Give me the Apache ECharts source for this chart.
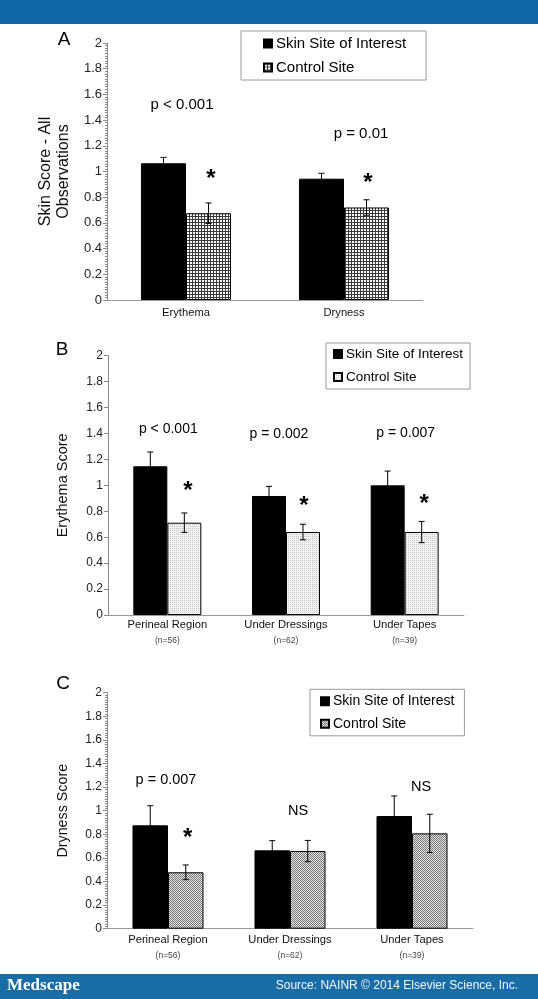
<!DOCTYPE html>
<html lang="en">
<head>
    <meta charset="UTF-8">
    <title>Skin Scores</title>
    <script src="https://cdn.jsdelivr.net/npm/echarts@6/dist/echarts.min.js"></script>
    <style>
        html, body { margin: 0; padding: 0; background: #fff; }
        #chart { width: 538px; height: 999px; }
    </style>
</head>
<body>
    <div id="chart"></div>
    <script type="text/javascript">
        // panel A - all observations
        var aCats = ['Erythema', 'Dryness'];
        var aSkin = [1.064, 0.944];
        var aSkinErr = [0.046, 0.042];
        var aCtrl = [0.675, 0.72];
        var aCtrlErr = [0.08, 0.06];
        var aNotes = ['p < 0.001', 'p = 0.01'];
        var aNoteY = [1.52, 1.29];
        var aStarY = [0.98, 0.95];

        // panel B - erythema by region
        var sites = ['Perineal Region', 'Under Dressings', 'Under Tapes'];
        var siteN = ['(n=56)', '(n=62)', '(n=39)'];
        var bSkin = [1.147, 0.918, 1.0];
        var bSkinErr = [0.11, 0.074, 0.11];
        var bCtrl = [0.712, 0.64, 0.64];
        var bCtrlErr = [0.075, 0.06, 0.082];
        var bNotes = ['p < 0.001', 'p = 0.002', 'p = 0.007'];
        var bNoteY = [1.434, 1.398, 1.403];
        var bStarY = [0.99, 0.88, 0.895];

        // panel C - dryness by region
        var cSkin = [0.876, 0.664, 0.955];
        var cSkinErr = [0.166, 0.082, 0.17];
        var cCtrl = [0.478, 0.658, 0.808];
        var cCtrlErr = [0.062, 0.09, 0.162];
        var cNotes = ['p = 0.007', 'NS', 'NS'];
        var cNoteY = [1.26, 1.0, 1.203];
        var cStarY = [0.81];

        var FONT = '"Liberation Sans", Arial, sans-serif';

        function pattern(w, h, draw) {
            var c = document.createElement('canvas');
            c.width = w; c.height = h;
            draw(c.getContext('2d'));
            return { image: c, repeat: 'repeat' };
        }
        // cross hatch for A, light dots for B, gray checker for C
        var hatchA = pattern(3, 3, function (g) {
            g.fillStyle = '#fff'; g.fillRect(0, 0, 3, 3);
            g.fillStyle = '#3a3a3a'; g.fillRect(0, 0, 3, 1); g.fillRect(0, 0, 1, 3);
        });
        var dotsB = pattern(2, 2, function (g) {
            g.fillStyle = '#f3f3f3'; g.fillRect(0, 0, 2, 2);
            g.fillStyle = '#c4c4c4'; g.fillRect(0, 0, 1, 1);
        });
        var dotsC = pattern(2, 2, function (g) {
            g.fillStyle = '#e6e6e6'; g.fillRect(0, 0, 2, 2);
            g.fillStyle = '#767676'; g.fillRect(0, 0, 1, 1); g.fillRect(1, 1, 1, 1);
        });

        var chart = echarts.init(document.getElementById('chart'));

        function toRows(vals, errs, side) {
            return vals.map(function (v, i) { return [i, v, errs[i], side]; });
        }

        // error bars, side -1 = left bar, +1 = right bar
        function errSeries(idx, vals, errs, side, gap) {
            return {
                type: 'custom', xAxisIndex: idx, yAxisIndex: idx, z: 5, silent: true,
                data: toRows(vals, errs, side),
                renderItem: function (params, api) {
                    var i = api.value(0), v = api.value(1), e = api.value(2), s = api.value(3);
                    var c = api.coord([i, v]);
                    var bw = api.size([1, 0])[0] * (1 - gap) / 2;
                    var x = c[0] + s * bw / 2;
                    var y1 = api.coord([i, v + e])[1];
                    var y2 = api.coord([i, v - e])[1];
                    var st = { stroke: '#000', lineWidth: 1 };
                    return { type: 'group', children: [
                        { type: 'line', shape: { x1: x, y1: y1, x2: x, y2: y2 }, style: st },
                        { type: 'line', shape: { x1: x - 3, y1: y1, x2: x + 3, y2: y1 }, style: st },
                        { type: 'line', shape: { x1: x - 3, y1: y2, x2: x + 3, y2: y2 }, style: st }
                    ] };
                }
            };
        }

        // p value labels and asterisks
        function noteSeries(idx, texts, ys, dxs, size, bold, shift, gap, onCtrl) {
            return {
                type: 'custom', xAxisIndex: idx, yAxisIndex: idx, z: 6, silent: true,
                data: ys.map(function (y, i) { return [i, y]; }),
                renderItem: function (params, api) {
                    var i = api.value(0);
                    var c = api.coord([i, api.value(1)]);
                    var bw = api.size([1, 0])[0] * (1 - gap) / 2;
                    var x = c[0] + (onCtrl ? bw / 2 : 0) + dxs[i];
                    return {
                        type: 'text', x: x, y: c[1] + shift,
                        style: {
                            text: texts[i], fill: '#000', align: 'center', verticalAlign: 'middle',
                            font: (bold ? 'bold ' : '') + size + 'px ' + FONT
                        }
                    };
                }
            };
        }

        function yAxisCfg(idx, name, nameSize, gap, labelSize, minor) {
            return {
                gridIndex: idx, type: 'value', min: 0, max: 2, interval: 0.2,
                name: name, nameLocation: 'middle', nameGap: gap,
                nameTextStyle: { fontFamily: FONT, fontSize: nameSize, color: '#111', lineHeight: nameSize + 2 },
                axisLine: { show: true, lineStyle: { color: '#8a8a8a' } },
                axisTick: { show: true, length: 4, lineStyle: { color: '#8a8a8a' } },
                minorTick: { show: minor, splitNumber: 10, length: 2, lineStyle: { color: '#8a8a8a' } },
                splitLine: { show: false },
                axisLabel: { fontFamily: FONT, fontSize: labelSize, color: '#222', margin: 5 }
            };
        }

        function xAxisCfg(idx, cats, withN, margin) {
            var lbl = { fontFamily: FONT, fontSize: 11.2, color: '#111', margin: margin, lineHeight: withN ? 16 : 14 };
            if (withN) {
                lbl.formatter = function (v, i) { return v + '\n{n|' + siteN[i] + '}'; };
                lbl.rich = { n: { fontFamily: FONT, fontSize: 8.5, color: '#444', lineHeight: 16 } };
            }
            return {
                gridIndex: idx, type: 'category', data: cats,
                axisLine: { lineStyle: { color: '#9a9a9a' } },
                axisTick: { show: false },
                axisLabel: lbl
            };
        }

        function legendCfg(idx, names, left, top, size, pad, gap) {
            return {
                orient: 'vertical', left: left, top: top, padding: pad, icon: 'rect',
                data: names, itemWidth: 8, itemHeight: 8, itemGap: gap, selectedMode: false,
                borderColor: '#9a9a9a', borderWidth: 1, backgroundColor: '#fff',
                formatter: function (n) { return n.split('|')[1]; },
                textStyle: { fontFamily: FONT, fontSize: size, color: '#000', padding: [0, 0, 0, -1] }
            };
        }

        function barSeries(idx, name, vals, fill, gap) {
            return {
                type: 'bar', name: name, xAxisIndex: idx, yAxisIndex: idx, data: vals,
                barGap: '0%', barCategoryGap: Math.round(gap * 1000) / 10 + '%',
                itemStyle: { color: fill, borderColor: '#000', borderWidth: 1 },
                emphasis: { disabled: true }
            };
        }

        var gA = 0.43, gB = 0.427, gC = 0.418;

        chart.setOption({
            animation: false,
            backgroundColor: '#fff',
            grid: [
                { left: 107, right: 115, top: 43, bottom: 699, outerBoundsMode: 'none' },
                { left: 108, right: 74, top: 355.7, bottom: 384, outerBoundsMode: 'none' },
                { left: 107, right: 65, top: 692.7, bottom: 70.3, outerBoundsMode: 'none' }
            ],
            xAxis: [xAxisCfg(0, aCats, false, 6), xAxisCfg(1, sites, true, 2), xAxisCfg(2, sites, true, 3)],
            yAxis: [
                yAxisCfg(0, 'Skin Score - All\nObservations', 16, 33, 13, true),
                yAxisCfg(1, 'Erythema Score', 14.5, 37, 12, false),
                yAxisCfg(2, 'Dryness Score', 14.3, 36, 12, true)
            ],
            legend: [
                legendCfg(0, ['A|Skin Site of Interest', 'A|Control Site'], 241, 31, 15, [5, 20, 5, 22], 9),
                legendCfg(1, ['B|Skin Site of Interest', 'B|Control Site'], 326, 343, 13.5, [4, 7, 5, 7], 9),
                legendCfg(2, ['C|Skin Site of Interest', 'C|Control Site'], 310, 689.3, 14, [5, 10, 5, 10], 8.5)
            ],
            series: [
                barSeries(0, 'A|Skin Site of Interest', aSkin, '#000', gA),
                barSeries(0, 'A|Control Site', aCtrl, hatchA, gA),
                errSeries(0, aSkin, aSkinErr, -1, gA),
                errSeries(0, aCtrl, aCtrlErr, 1, gA),
                noteSeries(0, aNotes, aNoteY, [-4, 17], 15, false, 0, gA, false),
                noteSeries(0, ['*', '*'], aStarY, [2.5, 1.5], 24, true, 5, gA, true),

                barSeries(1, 'B|Skin Site of Interest', bSkin, '#000', gB),
                barSeries(1, 'B|Control Site', bCtrl, dotsB, gB),
                errSeries(1, bSkin, bSkinErr, -1, gB),
                errSeries(1, bCtrl, bCtrlErr, 1, gB),
                noteSeries(1, bNotes, bNoteY, [1, -7, 1], 14, false, 0, gB, false),
                noteSeries(1, ['*', '*', '*'], bStarY, [3.5, 1, 2.5], 24, true, 5, gB, true),

                barSeries(2, 'C|Skin Site of Interest', cSkin, '#000', gC),
                barSeries(2, 'C|Control Site', cCtrl, dotsC, gC),
                errSeries(2, cSkin, cSkinErr, -1, gC),
                errSeries(2, cCtrl, cCtrlErr, 1, gC),
                noteSeries(2, cNotes, cNoteY, [-2, 8, 9], 14.5, false, 0, gC, false),
                noteSeries(2, ['*'], cStarY, [2], 24, true, 5, gC, true)
            ],
            graphic: [
                { type: 'rect', left: 0, top: 0, shape: { width: 538, height: 24 }, style: { fill: '#1268a6' } },
                { type: 'rect', left: 0, top: 974, shape: { width: 538, height: 25 }, style: { fill: '#196da6' } },
                { type: 'text', x: 64, y: 40, style: { text: 'A', fill: '#000', font: '19px ' + FONT, align: 'center', verticalAlign: 'middle' } },
                { type: 'text', x: 62, y: 350, style: { text: 'B', fill: '#000', font: '19px ' + FONT, align: 'center', verticalAlign: 'middle' } },
                { type: 'text', x: 63, y: 684, style: { text: 'C', fill: '#000', font: '19px ' + FONT, align: 'center', verticalAlign: 'middle' } },
                { type: 'text', x: 7, y: 986, style: { text: 'Medscape', fill: '#fff', font: 'bold 17px "Liberation Serif", serif', align: 'left', verticalAlign: 'middle' } },
                { type: 'text', x: 518, y: 986, style: { text: 'Source: NAINR \u00a9 2014 Elsevier Science, Inc.', fill: '#f2f6fa', font: '12px ' + FONT, align: 'right', verticalAlign: 'middle' } }
            ]
        });
    </script>
</body>
</html>
